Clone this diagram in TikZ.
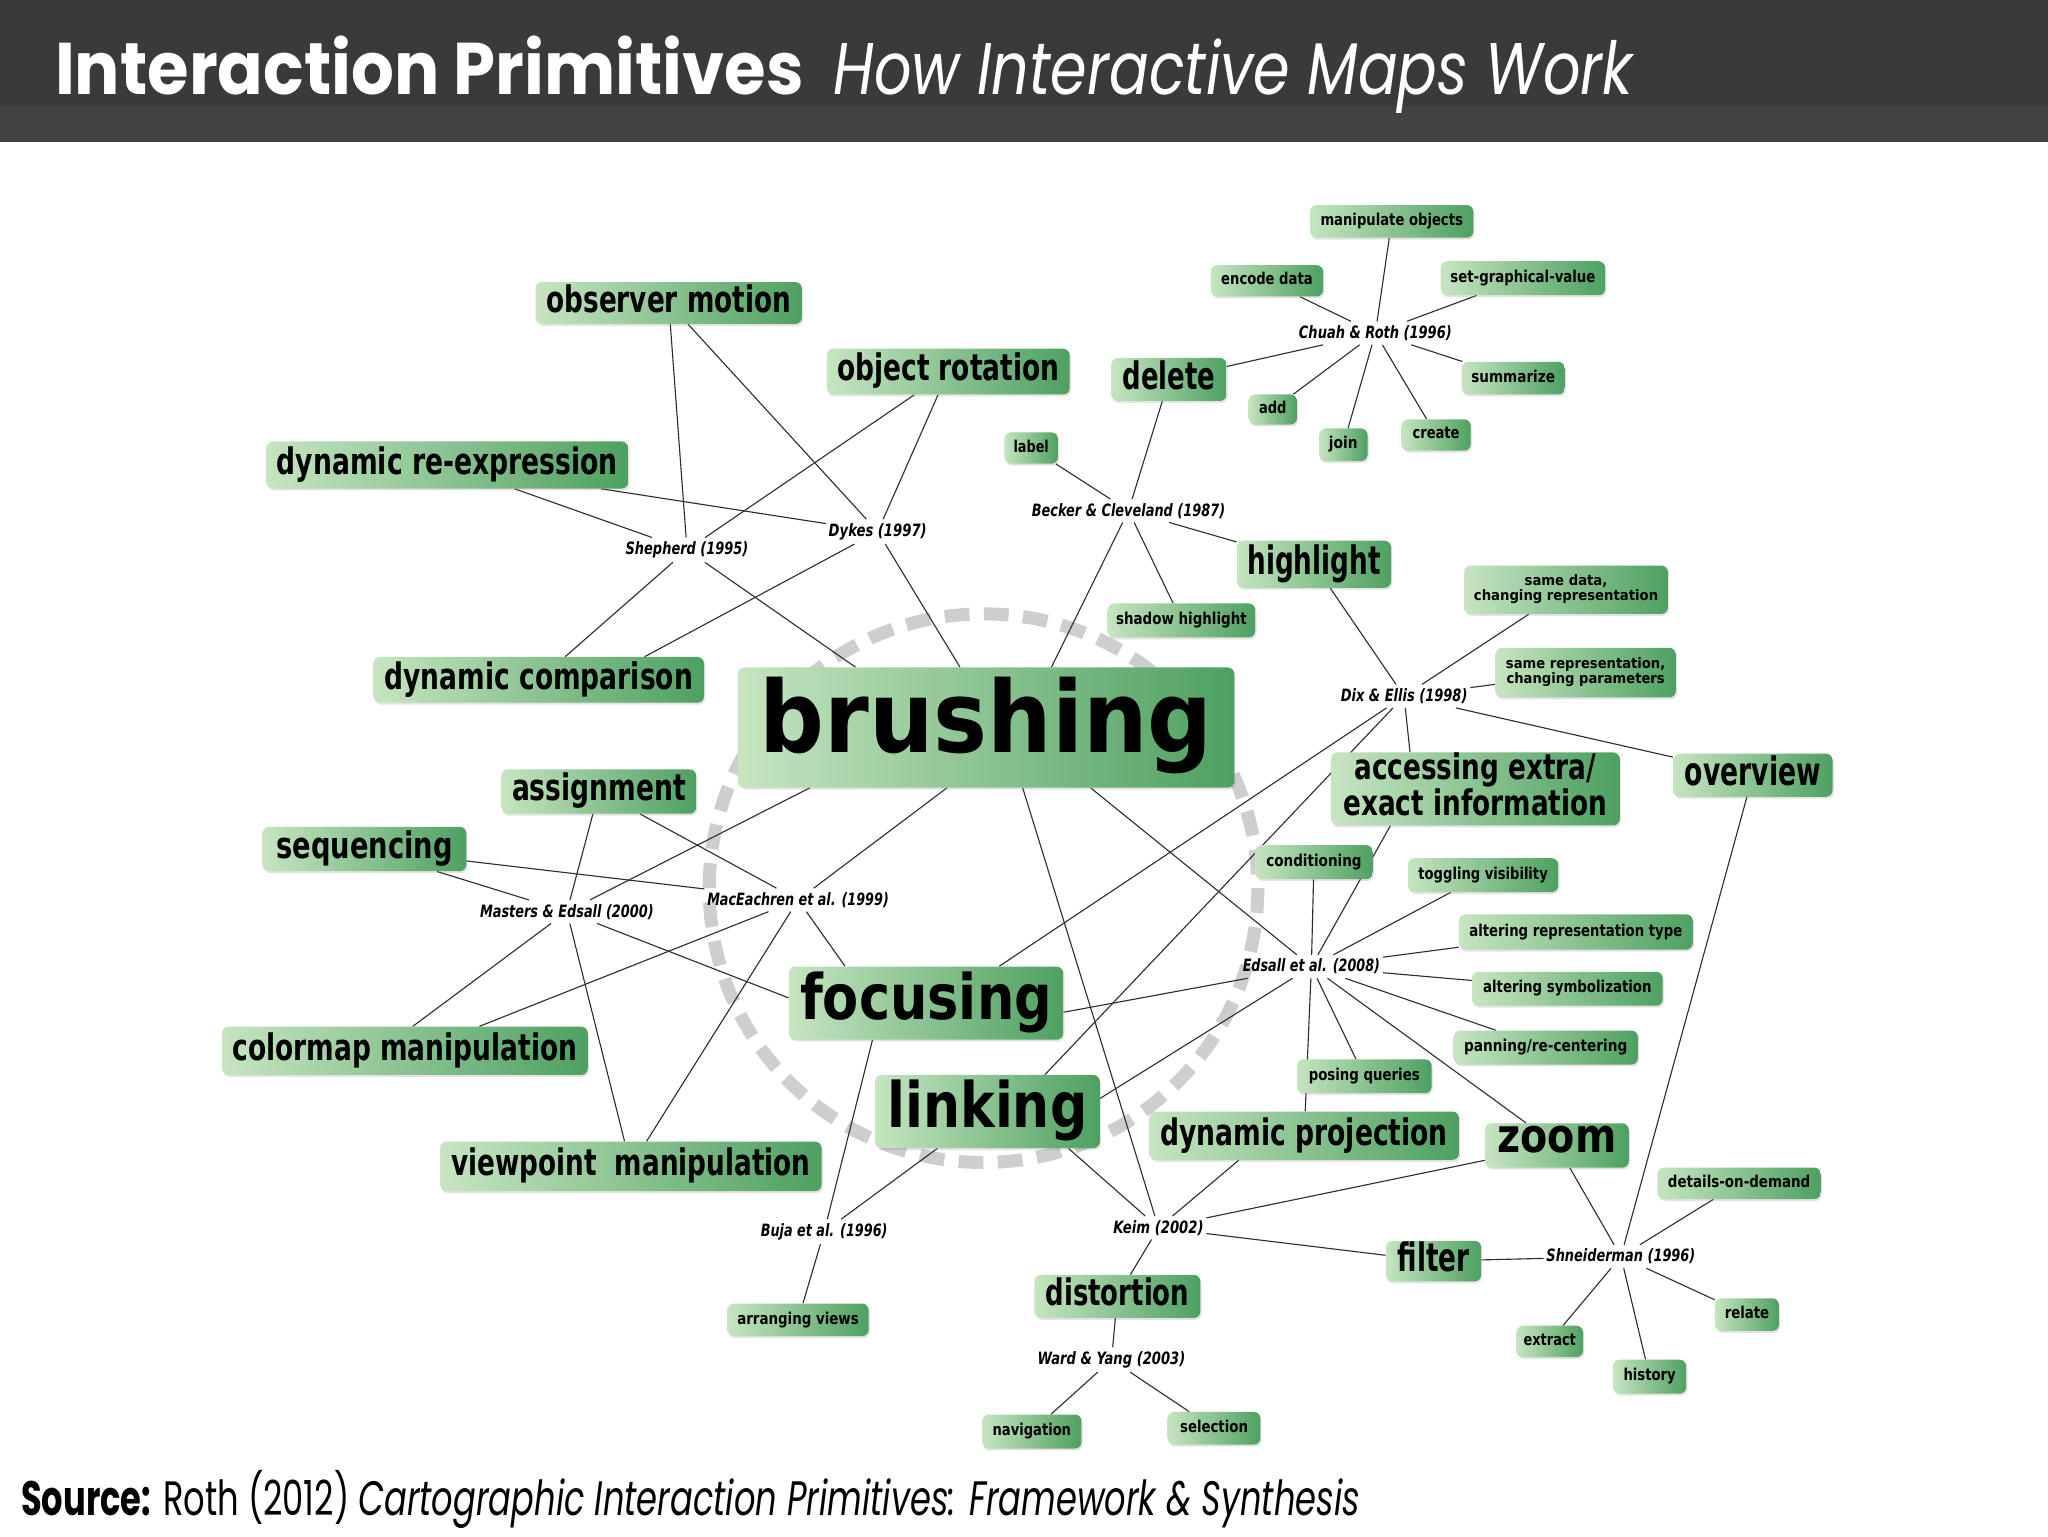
\documentclass[tikz,border=0pt]{standalone}
\usepackage{fontspec}
\usepackage{graphicx}
\setmainfont{DejaVu Sans}
\newfontfamily\titlefont{Poppins}
\usetikzlibrary{shadows}
\pgfdeclarelayer{bg}
\pgfdeclarelayer{mid}
\pgfsetlayers{bg,mid,main}
\definecolor{gL}{RGB}{198,229,192}
\definecolor{gR}{RGB}{78,160,98}
\definecolor{edgec}{RGB}{45,45,45}
\definecolor{ringc}{RGB}{206,206,206}
\definecolor{barA}{RGB}{58,58,58}
\definecolor{barB}{RGB}{66,66,66}
\newcommand\fitw[2]{\resizebox{#1pt}{\height}{\rule[-0.25em]{0pt}{0.79em}#2}}
\newcommand\fitt[2]{\resizebox{#1pt}{\height}{#2}}
\tikzset{
  box/.style={rounded corners=5pt, left color=gL, right color=gR, inner sep=0pt, text=black,
    drop shadow={shadow xshift=1pt, shadow yshift=-1.5pt, opacity=0.22}},
  sz/.style 2 args={minimum width=#1pt, minimum height=#2pt},
  fs/.style={font=\fontsize{#1}{#1}\selectfont\bfseries},
  auth/.style={font=\fontsize{13}{13}\selectfont\bfseries\itshape, inner xsep=2pt, inner ysep=3pt},
  con/.style={draw=edgec, line width=0.85pt},
  ring/.style={draw=ringc, line width=10pt, dash pattern=on 19pt off 11pt}
}
\begin{document}
\begin{tikzpicture}[x=1pt,y=-1pt]
\useasboundingbox (0,0) rectangle (1568,1176);
\begin{pgfonlayer}{bg}
\fill[white] (0,0) rectangle (1568,1176);
\draw[ring] (753,680) circle[radius=210];
\end{pgfonlayer}
% title bar
\fill[barA] (0,0) rectangle (1568,81);
\fill[barB] (0,81) rectangle (1568,109);
\node[anchor=base west, inner sep=0pt, text=white, font=\titlefont\fontsize{56}{56}\selectfont\bfseries] (t1) at (42,72) {\resizebox{573pt}{\height}{Interaction Primitives}};
\node[anchor=base west, inner sep=0pt, text=white, font=\titlefont\fontsize{56}{56}\selectfont\itshape] (t2) at (638,72) {\resizebox{612pt}{\height}{How Interactive Maps Work}};
% footer
\node[anchor=base west, inner sep=0pt, text=black, font=\titlefont\fontsize{37}{37}\selectfont] (src) at (16,1160) {\resizebox{1025pt}{\height}{\textbf{Source:} Roth (2012) \textit{Cartographic Interaction Primitives: Framework \& Synthesis}}};

% boxes
\node[box, sz={204}{32}, fs=28] (om) at (512,232) {\fitw{187}{observer motion}};
\node[box, sz={186}{35}, fs=28] (orot) at (726,284.5) {\fitw{170}{object rotation}};
\node[box, sz={277}{36}, fs=28] (dre) at (342.5,356) {\fitw{261}{dynamic re-expression}};
\node[box, sz={88}{33}, fs=29] (del) at (895,290.5) {\fitw{71}{delete}};
\node[box, sz={125}{25}, fs=12.5] (mo) at (1065.5,169.5) {\fitw{109}{manipulate objects}};
\node[box, sz={86}{24}, fs=12.5] (ed) at (970,215) {\fitw{70}{encode data}};
\node[box, sz={126}{26}, fs=12.5] (sgv) at (1166,213) {\fitw{111}{set-graphical-value}};
\node[box, sz={79}{25}, fs=12.5] (sum) at (1158.5,289.5) {\fitw{64}{summarize}};
\node[box, sz={37}{23}, fs=12.5] (add) at (974.5,313.5) {\fitw{21}{add}};
\node[box, sz={37}{25}, fs=12.5] (join) at (1028.5,340.5) {\fitw{22}{join}};
\node[box, sz={53}{24}, fs=12.5] (create) at (1099.5,333) {\fitw{36}{create}};
\node[box, sz={41}{24}, fs=12.5] (lab) at (789.5,343) {\fitw{27}{label}};
\node[box, sz={118}{36}, fs=30] (hl) at (1006,432) {\fitw{102}{highlight}};
\node[box, sz={113}{26}, fs=12.5] (shl) at (904.5,475) {\fitw{100}{shadow highlight}};
\node[box, sz={156}{37}, font=\fontsize{11}{11.5}\selectfont\bfseries] (sdr) at (1199,451.5) {\fitt{141}{\begin{tabular}{@{}c@{}}same data,\\changing representation\end{tabular}}};
\node[box, sz={138}{38}, font=\fontsize{11}{11.5}\selectfont\bfseries] (srp) at (1214,515) {\fitt{122}{\begin{tabular}{@{}c@{}}same representation,\\changing parameters\end{tabular}}};
\node[box, sz={253}{35}, fs=28] (dc) at (412.5,520.5) {\fitw{236}{dynamic comparison}};
\node[box, sz={380}{92}, fs=76] (br) at (755,557) {\fitw{347}{brushing}};
\node[box, sz={122}{33}, fs=30] (ov) at (1342,593.5) {\fitw{104}{overview}};
\node[box, sz={221}{56}, font=\fontsize{27}{24}\selectfont\bfseries] (acc) at (1129.5,604) {\fitt{202}{\begin{tabular}{@{}c@{}}accessing extra/\\exact information\end{tabular}}};
\node[box, sz={149}{34}, fs=28] (asg) at (458.5,606) {\fitw{133}{assignment}};
\node[box, sz={156}{34}, fs=28] (seq) at (279,650) {\fitw{135}{sequencing}};
\node[box, sz={90}{26}, fs=12.5] (cond) at (1006,660) {\fitw{73}{conditioning}};
\node[box, sz={115}{26}, fs=12.5] (tog) at (1135.5,670) {\fitw{99}{toggling visibility}};
\node[box, sz={179}{27}, fs=12.5] (art) at (1206.5,713.5) {\fitw{163}{altering representation type}};
\node[box, sz={146}{26}, fs=12.5] (asy) at (1200,757) {\fitw{129}{altering symbolization}};
\node[box, sz={141}{26}, fs=12.5] (pan) at (1183.5,802) {\fitw{125}{panning/re-centering}};
\node[box, sz={103}{26}, fs=12.5] (pq) at (1044.5,824) {\fitw{85}{posing queries}};
\node[box, sz={210}{56}, fs=48] (foc) at (709,768) {\fitw{193}{focusing}};
\node[box, sz={280}{37}, fs=28] (cm) at (310,804.5) {\fitw{264}{colormap manipulation}};
\node[box, sz={172}{56}, fs=48] (lk) at (756,851) {\fitw{153}{linking}};
\node[box, sz={237}{37}, fs=28] (dp) at (998.5,869.5) {\fitw{220}{dynamic projection}};
\node[box, sz={110}{34}, fs=36] (zm) at (1192,877) {\fitw{91}{zoom}};
\node[box, sz={292}{38}, fs=28] (vp) at (483,893) {\fitw{275}{viewpoint~ manipulation}};
\node[box, sz={125}{24}, fs=12.5] (dod) at (1331.5,906) {\fitw{109}{details-on-demand}};
\node[box, sz={73}{31}, fs=30] (fil) at (1097.5,965.5) {\fitw{55}{filter}};
\node[box, sz={127}{33}, fs=28] (dist) at (855.5,992.5) {\fitw{110}{distortion}};
\node[box, sz={108}{25}, fs=12.5] (av) at (611,1010.5) {\fitw{93}{arranging views}};
\node[box, sz={49}{25}, fs=12.5] (rel) at (1337.5,1006.5) {\fitw{34}{relate}};
\node[box, sz={51}{24}, fs=12.5] (ext) at (1186.5,1027) {\fitw{40}{extract}};
\node[box, sz={56}{26}, fs=12.5] (his) at (1263,1054) {\fitw{40}{history}};
\node[box, sz={76}{26}, fs=12.5] (nav) at (790,1096) {\fitw{60}{navigation}};
\node[box, sz={71}{25}, fs=12.5] (sel) at (929.5,1093.5) {\fitw{52}{selection}};

% author labels
\node[auth] (chr) at (1053,255) {\fitt{117}{Chuah \& Roth (1996)}};
\node[auth] (shep) at (526,421) {\fitt{94}{Shepherd (1995)}};
\node[auth] (dyk) at (672,407) {\fitt{75}{Dykes (1997)}};
\node[auth] (bc) at (864,391) {\fitt{148}{Becker \& Cleveland (1987)}};
\node[auth] (dix) at (1075,533) {\fitt{97}{Dix \& Ellis (1998)}};
\node[auth] (mac) at (611,689) {\fitt{139}{MacEachren et al. (1999)}};
\node[auth] (mas) at (434,698) {\fitt{133}{Masters \& Edsall (2000)}};
\node[auth] (eds) at (1004,740) {\fitt{105}{Edsall et al. (2008)}};
\node[auth] (buja) at (631,943) {\fitt{97}{Buja et al. (1996)}};
\node[auth] (keim) at (887,940) {\fitt{69}{Keim (2002)}};
\node[auth] (shn) at (1241,962) {\fitt{114}{Shneiderman (1996)}};
\node[auth] (wy) at (851,1041) {\fitt{113}{Ward \& Yang (2003)}};

% connectors
\begin{pgfonlayer}{mid}
% Chuah & Roth
\draw[con] (chr) -- (mo);
\draw[con] (chr) -- (ed);
\draw[con] (chr) -- (sgv);
\draw[con] (chr) -- (del);
\draw[con] (chr) -- (add);
\draw[con] (chr) -- (join);
\draw[con] (chr) -- (create);
\draw[con] (chr) -- (sum);
% Shepherd
\draw[con] (shep) -- (om);
\draw[con] (shep) -- (dre);
\draw[con] (shep) -- (orot);
\draw[con] (shep) -- (dc);
\draw[con] (shep) -- ([xshift=-100pt]br.north);
% Dykes
\draw[con] (dyk) -- (om);
\draw[con] (dyk) -- (dre);
\draw[con] (dyk) -- (orot);
\draw[con] (dyk) -- ([xshift=81pt]dc.north);
\draw[con] (dyk) -- ([xshift=-20pt]br.north);
% Becker & Cleveland
\draw[con] (bc) -- (lab);
\draw[con] (bc) -- (del);
\draw[con] (bc) -- (hl);
\draw[con] (bc) -- (shl);
\draw[con] (bc) -- ([xshift=50pt]br.north);
% Dix & Ellis
\draw[con] (dix) -- (hl);
\draw[con] (dix) -- (sdr);
\draw[con] (dix) -- (srp);
\draw[con] (dix) -- (ov);
\draw[con] (dix) -- ([xshift=-50pt]acc.north);
\draw[con] (dix) -- ([xshift=56pt]foc.north);
\draw[con] (dix) -- ([xshift=44pt]lk.north);
% Edsall et al.
\draw[con] (eds) -- (cond);
\draw[con] (eds) -- ([xshift=-65pt]acc.south);
\draw[con] (eds) -- (tog);
\draw[con] (eds) -- (art);
\draw[con] (eds) -- (asy);
\draw[con] (eds) -- (pan);
\draw[con] (eds) -- (zm);
\draw[con] (eds) -- (pq);
\draw[con] (eds) -- (dp);
\draw[con] (eds) -- ([yshift=10pt]lk.east);
\draw[con] (eds) -- ([yshift=-7pt]foc.east);
\draw[con] (eds) -- ([xshift=80pt]br.south);
% MacEachren et al.
\draw[con] (mac) -- (asg);
\draw[con] (mac) -- (seq);
\draw[con] (mac) -- ([xshift=-30pt]br.south);
\draw[con] (mac) -- ([xshift=-62pt]foc.north);
\draw[con] (mac) -- ([xshift=57pt]cm.north);
\draw[con] (mac) -- (vp);
% Masters & Edsall
\draw[con] (mas) -- (asg);
\draw[con] (mas) -- (seq);
\draw[con] (mas) -- ([xshift=-135pt]br.south);
\draw[con] (mas) -- ([xshift=6pt]cm.north);
\draw[con] (mas) -- (vp);
\draw[con] (mas) -- ([yshift=4pt]foc.west);
% Buja et al.
\draw[con] (buja) -- ([xshift=-41pt]foc.south);
\draw[con] (buja) -- (lk);
\draw[con] (buja) -- (av);
% Keim
\draw[con] (keim) -- ([xshift=28pt]br.south);
\draw[con] (keim) -- ([xshift=62pt]lk.south);
\draw[con] (keim) -- ([xshift=-50pt]dp.south);
\draw[con] (keim) -- (zm);
\draw[con] (keim) -- (fil);
\draw[con] (keim) -- (dist);
% Shneiderman
\draw[con] (shn) -- (ov);
\draw[con] (shn) -- (zm);
\draw[con] (shn) -- (dod);
\draw[con] (shn) -- (fil);
\draw[con] (shn) -- (ext);
\draw[con] (shn) -- (his);
\draw[con] (shn) -- (rel);
% Ward & Yang
\draw[con] (wy) -- (dist);
\draw[con] (wy) -- (nav);
\draw[con] (wy) -- (sel);
\end{pgfonlayer}
\end{tikzpicture}
\end{document}
